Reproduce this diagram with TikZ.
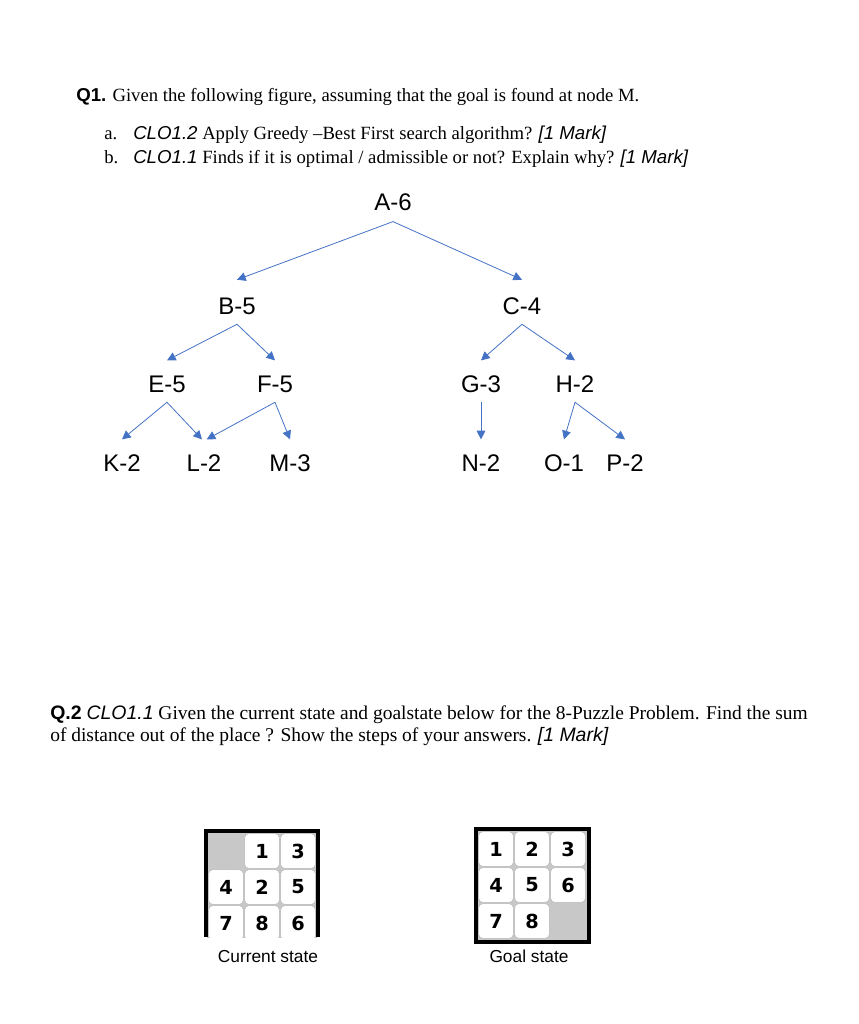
\documentclass[tikz,border=0pt]{standalone}
\usepackage{fontspec}
\setmainfont{Liberation Serif}
\setsansfont{Liberation Sans}
\newfontfamily\tilefont{DejaVu Sans}
\usetikzlibrary{arrows.meta,positioning}
\definecolor{edgeblue}{HTML}{4472C4}
\definecolor{tilegray}{HTML}{C8C8C8}
\newcommand{\ital}[1]{{\sffamily\itshape #1}}

\begin{document}
\begin{tikzpicture}[x=0.75pt, y=-0.75pt,
    every node/.style={inner sep=0pt},
    qtext/.style={anchor=base west, font=\fontsize{14}{16}\selectfont},
    qtwo/.style={anchor=base west, font=\fontsize{14.6}{16}\selectfont},
    treenode/.style={font=\sffamily\fontsize{18}{20}\selectfont, text height=13pt, text depth=0pt},
    edge/.style={edgeblue, line width=0.6pt, -{Triangle[length=6.5pt,width=6.5pt]}},
    tile/.style={draw=gray!55, fill=white, rounded corners=3pt, minimum size=26pt,
        font=\tilefont\bfseries\fontsize{14.5}{16}\selectfont},
    frame/.style={line width=2.6pt, line join=miter},
    caption/.style={anchor=base, font=\sffamily\fontsize{13}{15}\selectfont}]
    \useasboundingbox (0,0) rectangle (859,1024);

    % Question 1 text
    \node[qtext] (q1) at (76,102) {\textsf{\bfseries Q1.} Given the following figure, assuming that the goal is found at node M.};
    \node[qtext] (qa) at (104,139) {a.};
    \node[qtext] (qatext) at (133,139) {\ital{CLO1.2} Apply Greedy --Best First search algorithm? \ital{[1 Mark]}};
    \node[qtext] (qb) at (104,163) {b.};
    \node[qtext] (qbtext) at (133,163) {\ital{CLO1.1} Finds if it is optimal / admissible or not? Explain why? \ital{[1 Mark]}};

    % Search tree nodes
    \node[treenode] (A) at (393,202) {A-6};
    \node[treenode] (B) at (237,306) {B-5};
    \node[treenode] (C) at (522,306) {C-4};
    \node[treenode] (E) at (167,384) {E-5};
    \node[treenode] (F) at (275,384) {F-5};
    \node[treenode] (G) at (481,384) {G-3};
    \node[treenode] (H) at (575,384) {H-2};
    \node[treenode] (K) at (122,463) {K-2};
    \node[treenode] (L) at (204,463) {L-2};
    \node[treenode] (M) at (290,463) {M-3};
    \node[treenode] (N) at (481,463) {N-2};
    \node[treenode] (O) at (564,463) {O-1};
    \node[treenode] (P) at (625,463) {P-2};

    % Edges
    \foreach \c in {B,C}
        \draw[edge] ([yshift=-8pt]A.south) -- ([yshift=13pt]\c.north);
    \foreach \p/\c in {B/E, B/F, C/G, C/H, E/K, F/M, G/N, H/O, H/P}
        \draw[edge] ([yshift=-7pt]\p.south) -- ([yshift=11pt]\c.north);
    \draw[edge] ([yshift=-7pt]E.south) -- ([xshift=-1.5pt,yshift=11pt]L.north);
    \draw[edge] ([yshift=-7pt]F.south) -- ([xshift=2pt,yshift=11pt]L.north);

    % Question 2 text
    \node[qtwo] (q2) at (50,719) {\textsf{\bfseries Q.2} \ital{CLO1.1} Given the current state and goalstate below for the 8-Puzzle Problem. Find the sum};
    \node[qtwo] (q2b) at (50,741) {of distance out of the place ? Show the steps of your answers. \ital{[1 Mark]}};

    % Current state puzzle (cut off at the bottom)
    \begin{scope}
        \clip (200,825) rectangle (325,937);
        \fill[tilegray] (207,832) rectangle (317,940);
        \foreach \n/\col/\row in {1/2/1, 3/3/1, 4/1/2, 2/2/2, 5/3/2, 7/1/3, 8/2/3, 6/3/3}
            \node[tile] (cur\n) at ({190+36*\col},{815+36*\row}) {\n};
    \end{scope}
    \draw[frame] (206,937) -- (206,831) -- (318,831) -- (318,937);
    \node[caption] (curlabel) at (268,962) {Current state};

    % Goal state puzzle
    \fill[tilegray] (477,830) rectangle (588,941);
    \foreach \n/\col/\row in {1/1/1, 2/2/1, 3/3/1, 4/1/2, 5/2/2, 6/3/2, 7/1/3, 8/2/3}
        \node[tile] (goal\n) at ({460+36*\col},{813+36*\row}) {\n};
    \draw[frame] (476,829) rectangle (589,942);
    \node[caption] (goallabel) at (529,962) {Goal state};
\end{tikzpicture}
\end{document}
